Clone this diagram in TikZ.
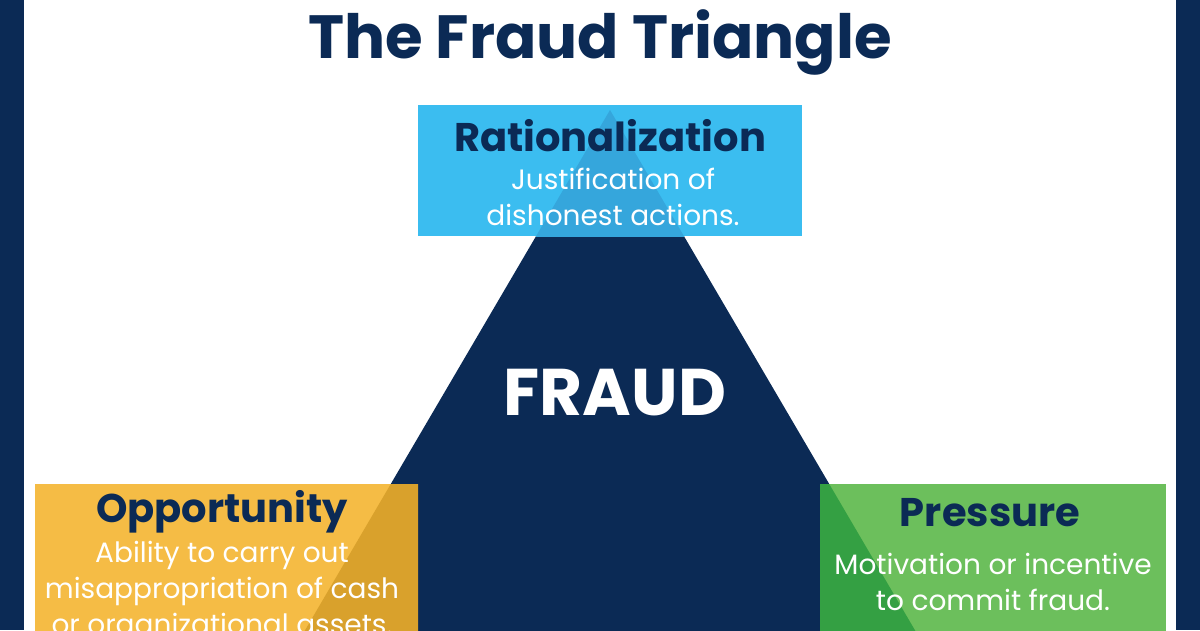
\documentclass[tikz,border=0pt]{standalone}
\usepackage{fontspec}
\setmainfont{Poppins}
\definecolor{navy}{HTML}{0B2A55}
\definecolor{lblue}{HTML}{3BBDF0}
\definecolor{dblue}{HTML}{35A6DC}
\definecolor{lyel}{HTML}{F5BC45}
\definecolor{dyel}{HTML}{D9A12C}
\definecolor{lgrn}{HTML}{6CBF5C}
\definecolor{dgrn}{HTML}{34A043}
\begin{document}
\begin{tikzpicture}[x=1pt,y=-1pt,
  head/.style={font=\bfseries\fontsize{40}{44}\selectfont, text=navy},
  body/.style={font=\fontsize{28}{36}\selectfont, text=white, align=center}]
\useasboundingbox (0,0) rectangle (1200,630);
\clip (0,0) rectangle (1200,630);
\fill[navy] (0,0) rectangle (24,630);
\fill[navy] (1176,0) rectangle (1200,630);
\node[font=\bfseries\fontsize{61}{66}\selectfont, text=navy] (title) at (600,42) {The Fraud Triangle};
\def\tri{(610,110) -- (270,690) -- (950,690) -- cycle}
\fill[navy] \tri;
\node[font=\bfseries\fontsize{66}{70}\selectfont, text=white] (fraud) at (615,393) {FRAUD};
% boxes
\fill[lblue] (418,105) rectangle (802,236);
\begin{scope}\clip (418,105) rectangle (802,236); \fill[dblue] \tri; \end{scope}
\fill[lyel] (35,484) rectangle (418,640);
\begin{scope}\clip (35,484) rectangle (418,640); \fill[dyel] \tri; \end{scope}
\fill[lgrn] (820,484) rectangle (1166,640);
\begin{scope}\clip (820,484) rectangle (1166,640); \fill[dgrn] \tri; \end{scope}
\node[head] (rh) at (610,136) {Rationalization};
\node[body] (rb) at (613,197) {Justification of\\dishonest actions.};
\node[head] (oh) at (222,512) {Opportunity};
\node[body] (ob) at (222,592) {Ability to carry out\\misappropriation of cash\\or organizational assets.};
\node[head] (ph) at (990,513) {Pressure};
\node[body] (pb) at (993,582) {Motivation or incentive\\to commit fraud.};
\end{tikzpicture}
\end{document}
